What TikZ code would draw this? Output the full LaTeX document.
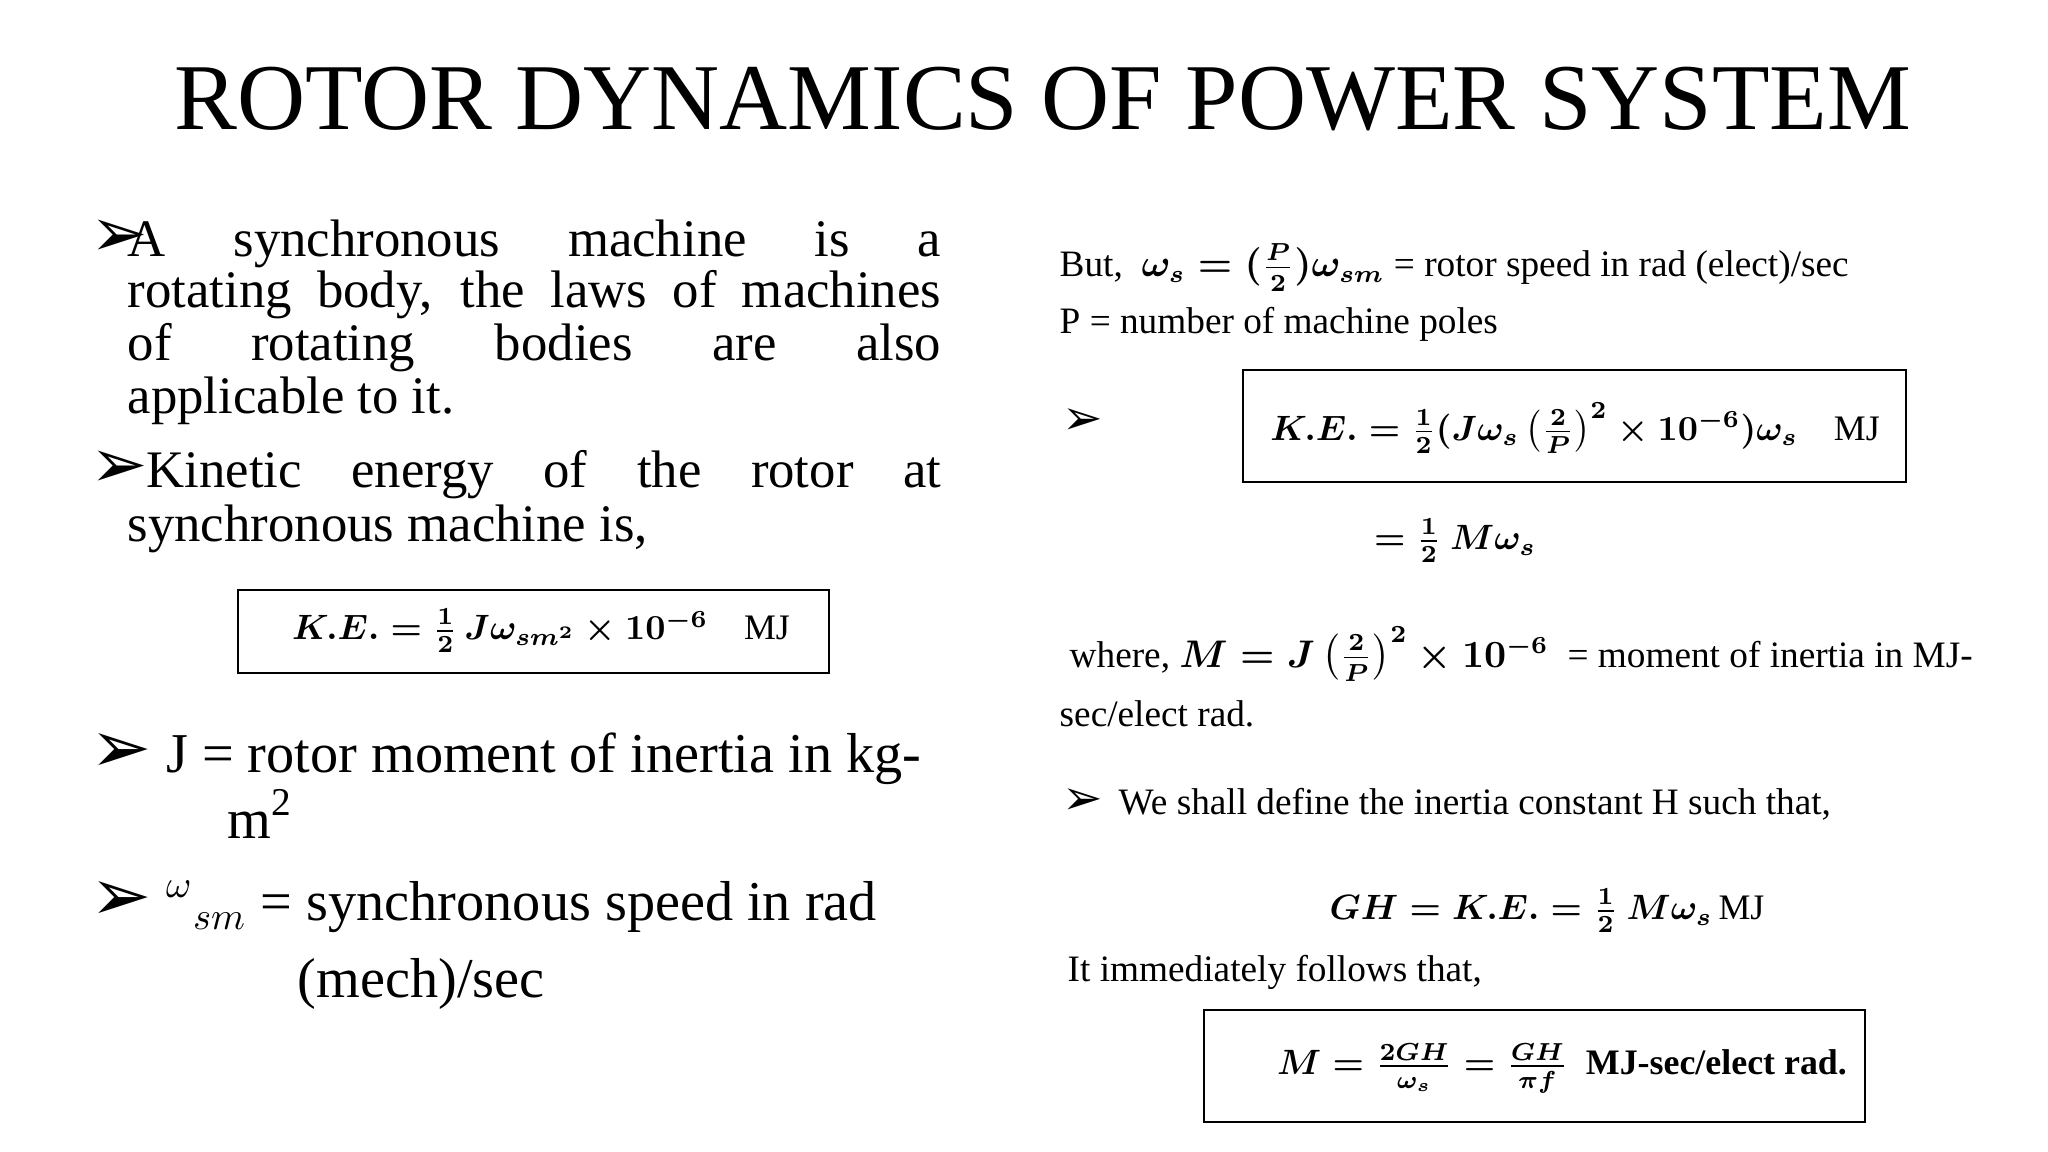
\documentclass[tikz,border=0pt]{standalone}
\usepackage{amsmath}
\usepackage{fontspec}
\setmainfont{Liberation Serif}
\newfontfamily\dv{DejaVu Sans}
\newcommand{\arr}{{\dv\scalebox{1.3}{➢}}}
\newcommand{\jline}[1]{\makebox[8.13cm][s]{#1}}
\begin{document}
\begin{tikzpicture}[x=0.01cm,y=-0.01cm,
  txt/.style={anchor=base west,inner sep=0pt,font=\fontsize{15}{15}\selectfont},
  btxt/.style={anchor=base west,inner sep=0pt,font=\fontsize{16}{18}\selectfont},
  rtxt/.style={anchor=base west,inner sep=0pt,font=\fontsize{10.6}{12.5}\selectfont},
  fm/.style={inner sep=0pt,font=\fontsize{10.2}{12}\selectfont\boldmath},
  boxed/.style={draw,line width=0.6pt}]
\useasboundingbox (0,0) rectangle (2048,1152);
\node[inner sep=0pt,anchor=base] (title) at (1043,130) {\fontsize{26.8}{30}\selectfont ROTOR DYNAMICS OF POWER SYSTEM};
\node[txt] (b1) at (90,257) {\arr};
\node[txt] (l1) at (127,257) {\jline{A synchronous machine is a}};
\node[txt] (l2) at (127,308) {\jline{rotating body, the laws of machines}};
\node[txt] (l3) at (127,361) {\jline{of rotating bodies are also}};
\node[txt] (l4) at (127,414) {applicable to it.};
\node[txt] (b2) at (90,488) {\arr};
\node[txt] (l5) at (146,488) {\makebox[7.94cm][s]{Kinetic energy of the rotor at}};
\node[txt] (l6) at (127,542) {synchronous machine is,};
\draw[boxed] (238,590) rectangle (829,673);
\node[fm] (f1) at (541,631) {$K.E.=\frac{1}{2}\,J\omega_{sm^2}\times10^{-6}$\quad MJ};
\node[btxt] (j) at (90,772) {\arr\ J = rotor moment of inertia in kg-};
\node[btxt] (m2) at (227,838) {m\textsuperscript{2}};
\node[btxt] (w) at (90,920) {\arr\ $^{\omega}{}_{sm}$ = synchronous speed in rad};
\node[btxt] (mech) at (297,997) {(mech)/sec};
\node[rtxt] (but) at (1059,277) {But,\ \ {\boldmath$\omega_s=(\frac{P}{2})\omega_{sm}$} = rotor speed in rad (elect)/sec};
\node[rtxt] (pp) at (1059,334) {P = number of machine poles};
\node[rtxt] (b3) at (1062,435) {\arr};
\draw[boxed] (1243,370) rectangle (1906,482);
\node[fm] (f2) at (1575,428) {$K.E.=\frac{1}{2}(J\omega_s\left(\frac{2}{P}\right)^2\times10^{-6})\omega_s$\quad MJ};
\node[fm] (f3) at (1455,541) {$=\frac{1}{2}\ M\omega_s$};
\node[rtxt] (wh) at (1069,667) {where,\ {\boldmath$M=J\left(\frac{2}{P}\right)^2\times10^{-6}$}\ \ = moment of inertia in MJ-};
\node[rtxt] (sec) at (1059,726) {sec/elect rad.};
\node[rtxt] (b4) at (1062,814) {\arr};
\node[rtxt] (we) at (1118,814) {We shall define the inertia constant H such that,};
\node[fm] (f4) at (1547,911) {$GH=K.E.=\frac{1}{2}\ M\omega_s$\,MJ};
\node[rtxt] (imm) at (1067,981) {It immediately follows that,};
\draw[boxed] (1204,1010) rectangle (1865,1122);
\node[fm] (f5) at (1562,1068) {$M=\frac{2GH}{\omega_s}=\frac{GH}{\pi f}$\ \ \textbf{MJ-sec/elect rad.}};
\end{tikzpicture}
\end{document}
